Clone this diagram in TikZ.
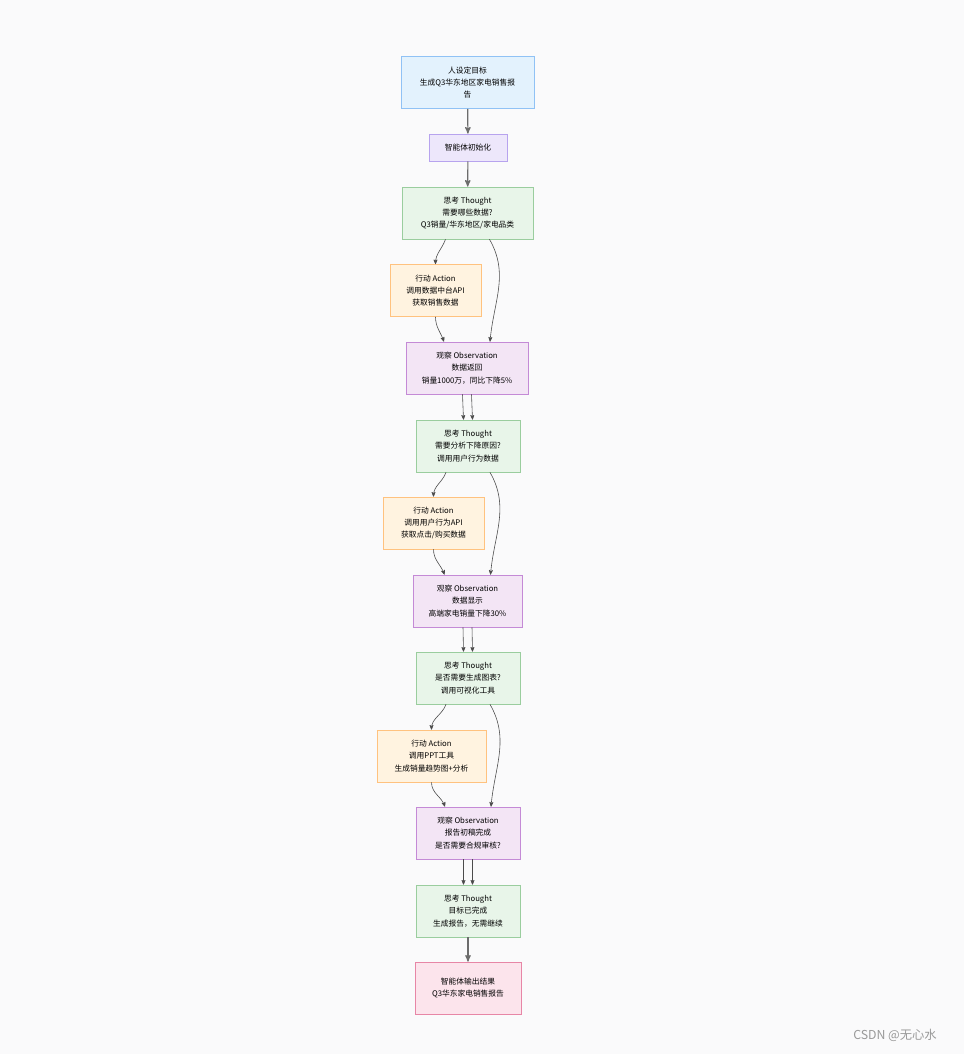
\documentclass[tikz,border=0pt]{standalone}
\usepackage{fontspec}
\setmainfont{Noto Sans CJK SC}
\usetikzlibrary{arrows,calc}

\definecolor{bgc}{HTML}{FAFAFB}
\definecolor{goalf}{HTML}{E3F2FD}\definecolor{goald}{HTML}{90C2F5}
\definecolor{initf}{HTML}{EDE7FB}\definecolor{initd}{HTML}{B7A3EE}
\definecolor{thinkf}{HTML}{E8F5E9}\definecolor{thinkd}{HTML}{9ACD9E}
\definecolor{actf}{HTML}{FFF3E0}\definecolor{actd}{HTML}{FFC27F}
\definecolor{obsf}{HTML}{F3E5F5}\definecolor{obsd}{HTML}{C48AD6}
\definecolor{endf}{HTML}{FCE4EC}\definecolor{endd}{HTML}{E786A6}

\begin{document}
\begin{tikzpicture}[x=0.03cm, y=-0.03cm, >=stealth', thick,
    every node/.style={font=\fontsize{6.6}{10.4}\selectfont, align=center, inner sep=0pt},
    box/.style={draw, line width=0.6pt, minimum height=1.56cm},
    goal node/.style={box, fill=goalf, draw=goald},
    init node/.style={box, fill=initf, draw=initd, minimum height=0.81cm},
    think node/.style={box, fill=thinkf, draw=thinkd},
    act node/.style={box, fill=actf, draw=actd},
    obs node/.style={box, fill=obsf, draw=obsd},
    end node/.style={box, fill=endf, draw=endd},
    main edge/.style={->, draw=gray!85!black, line width=1pt},
    loop edge/.style={->, draw=black!70, line width=0.5pt}]
        % Background
        \fill[bgc] (0,0) rectangle (964,1054);
        \useasboundingbox (0,0) rectangle (964,1054);

        % Nodes
        \node[goal node, minimum width=3.99cm] (goal) at (467.5,82.5) {人设定目标\\生成Q3华东地区家电销售报\\告};
        \node[init node, minimum width=2.34cm] (init) at (468,147.5) {智能体初始化};
        \node[think node, minimum width=3.93cm] (t1) at (467.5,213) {思考 Thought\\需要哪些数据?\\Q3销量/华东地区/家电品类};
        \node[act node, minimum width=2.73cm] (a1) at (435.5,290.5) {行动 Action\\调用数据中台API\\获取销售数据};
        \node[obs node, minimum width=3.66cm] (o1) at (467,368) {观察 Observation\\数据返回\\销量1000万，同比下降5\%};
        \node[think node, minimum width=3.12cm] (t2) at (468,446) {思考 Thought\\需要分析下降原因?\\调用用户行为数据};
        \node[act node, minimum width=3.03cm] (a2) at (433.5,523) {行动 Action\\调用用户行为API\\获取点击/购买数据};
        \node[obs node, minimum width=3.27cm] (o2) at (467.5,601) {观察 Observation\\数据显示\\高端家电销量下降30\%};
        \node[think node, minimum width=3.12cm] (t3) at (468,678) {思考 Thought\\是否需要生成图表?\\调用可视化工具};
        \node[act node, minimum width=3.27cm] (a3) at (431.5,756) {行动 Action\\调用PPT工具\\生成销量趋势图+分析};
        \node[obs node, minimum width=3.12cm] (o3) at (468,833) {观察 Observation\\报告初稿完成\\是否需要合规审核?};
        \node[think node, minimum width=3.12cm] (t4) at (468,911) {思考 Thought\\目标已完成\\生成报告，无需继续};
        \node[end node, minimum width=3.18cm] (done) at (468,988) {智能体输出结果\\Q3华东家电销售报告};
        \node[text=gray!80, font=\fontsize{10.5}{12}\selectfont] (mark) at (895,1035) {CSDN @无心水};

        % Straight edges
        \draw[main edge] (goal) -- (init);
        \draw[main edge] (init) -- (t1);
        \draw[main edge] (t4) -- (done);

        % Thought -> Action -> Observation, and Thought -> Observation
        \foreach \t/\a/\o in {t1/a1/o1, t2/a2/o2, t3/a3/o3} {
            \draw[loop edge] ($(\t.south)+(-22,0)$) to[out=250, in=90] (\a.north);
            \draw[loop edge] (\a.south) to[out=270, in=110] ($(\o.north)+(-23,0)$);
            \draw[loop edge] ($(\t.south)+(22,0)$) to[out=300, in=85] ($(\o.north)+(23,0)$);
        }

        % Observation -> Thought (double)
        \foreach \o/\t in {o1/t2, o2/t3, o3/t4} {
            \draw[loop edge] ($(\o.south)+(-4.5,0)$) -- ($(\t.north)+(-4.5,0)$);
            \draw[loop edge] ($(\o.south)+(4.5,0)$) -- ($(\t.north)+(4.5,0)$);
        }
\end{tikzpicture}
\end{document}
